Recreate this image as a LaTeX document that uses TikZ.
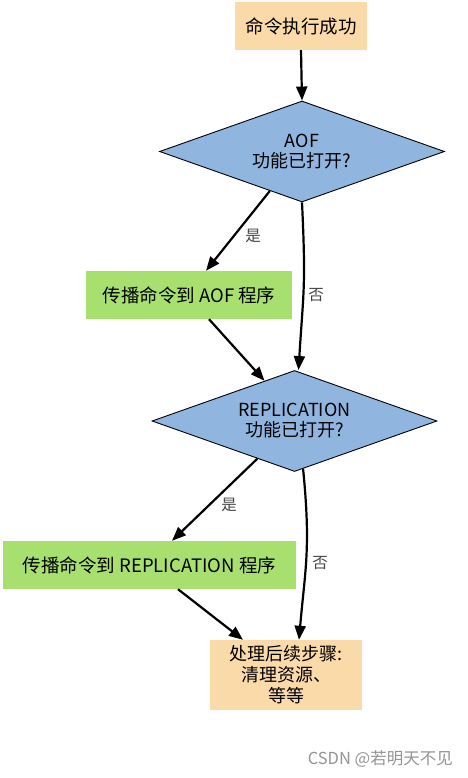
\documentclass[tikz,border=0pt]{standalone}
\usepackage{fontspec}
\setmainfont{Noto Sans CJK SC}
\usetikzlibrary{shapes.geometric,arrows.meta,calc}
\definecolor{peach}{RGB}{251,218,170}
\definecolor{leaf}{RGB}{168,224,112}
\definecolor{sky}{RGB}{144,182,224}
\definecolor{lbl}{RGB}{70,70,70}
\tikzset{
  box/.style={rectangle, inner sep=0pt, font=\fontsize{18.5}{21}\selectfont, align=center},
  peachbox/.style={box, fill=peach},
  greenbox/.style={box, fill=leaf},
  decision/.style={diamond, draw=black, line width=0.9pt, fill=sky, inner sep=0pt, aspect=2.8,
    minimum width=285pt, minimum height=101pt, font=\fontsize{18}{20}\selectfont, align=center},
  conn/.style={line width=2.2pt, -{Triangle[length=14pt,width=11pt]}},
  yn/.style={font=\fontsize{15.5}{17}\selectfont, text=lbl, inner sep=0pt}
}
\begin{document}
\begin{tikzpicture}[x=1pt,y=-1pt]
\useasboundingbox (0,0) rectangle (467,778);
\node[peachbox, minimum width=132pt, minimum height=48pt] (start) at (301,26) {命令执行成功};
\node[decision] (d1) at (302,151.5) {AOF\\功能已打开?};
\node[greenbox, minimum width=206pt, minimum height=48pt] (aof) at (189,295) {传播命令到 AOF 程序};
\node[decision] (d2) at (294.5,421) {REPLICATION\\功能已打开?};
\node[greenbox, minimum width=293pt, minimum height=48pt] (rep) at (149.5,565) {传播命令到 REPLICATION 程序};
\node[peachbox, minimum width=152pt, minimum height=70pt, font=\fontsize{18}{21}\selectfont] (end) at (286,675) {处理后续步骤:\\清理资源、\\等等};
\node[font=\fontsize{16.5}{18}\selectfont, text=black!42, anchor=east, inner sep=0pt] (wm) at (453,759) {CSDN @若明天不见};

\draw[conn] (start.south) -- (d1.north);
\draw[conn] ($(d1.south)!0.225!(d1.west)$) -- ($(aof.north)+(17,0)$);
\draw[conn] (d1.south) .. controls +(4,85) and +(5,-80) .. ($(d2.north)+(4,0)$);
\draw[conn] ($(aof.south)+(20,0)$) -- ($(d2.north)!0.21!(d2.west)$);
\draw[conn] ($(d2.south)!0.26!(d2.west)$) -- ($(rep.north)+(22.5,0)$);
\draw[conn] ($(d2.south)!0.06!(d2.east)$) .. controls +(8,80) and +(6,-70) .. ($(end.north)+(13,0)$);
\draw[conn] ($(rep.south)+(28.5,0)$) -- ($(end.north)+(-43,0)$);

\node[yn] (y1) at (253,236) {是};
\node[yn] (n1) at (316,295) {否};
\node[yn] (y2) at (229,505) {是};
\node[yn] (n2) at (320,563) {否};
\end{tikzpicture}
\end{document}
